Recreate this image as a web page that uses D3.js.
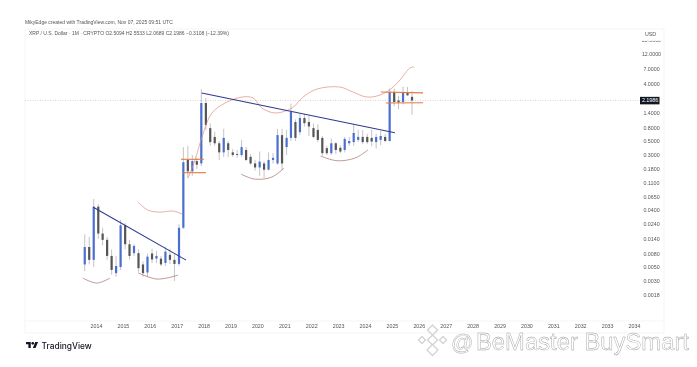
<!DOCTYPE html>
<html>
<head>
<meta charset="utf-8">
<script src="https://cdn.jsdelivr.net/npm/d3@7"></script>
<style>
  html, body { margin: 0; background: #fff; overflow: hidden; }
  svg { display: block; filter: blur(0.5px); }
  text { font-family: "Liberation Sans", sans-serif; fill: #555; }
</style>
</head>
<body>
<svg width="697" height="367"></svg>
<script>
const opens = [.0055,.0104,.0065,.0455,.017,.0135,.0075,.0040,.0050,.023,.0115,.0083,.0083,.0055,.0041,.0082,.0068,.0068,.0058,.0078,.0065,.0056,.021,.25,.165,.24,.22,2.0,.8,.58,.46,.33,.46,.33,.31,.30,.36,.28,.22,.19,.22,.175,.25,.22,.62,.40,.56,1.0,.69,1.16,1.0,.8,.75,.56,.385,.32,.46,.39,.36,.46,.48,.52,.58,.58,.56,.48,.52,.58,.50,3.0,2.2,2.08,2.9,2.5094]
const highs = [.0165,.015,.060,.05,.021,.015,.0095,.0075,.028,.025,.0135,.0115,.0095,.0062,.0082,.0098,.009,.0075,.0105,.0098,.008,.024,.40,.42,.30,.27,3.3,2.4,.95,.7,.5,.78,.5,.37,.36,.52,.40,.31,.25,.34,.24,.33,.32,.78,.78,.75,1.96,1.1,1.35,1.35,1.25,.95,.92,.6,.42,.55,.48,.43,.58,.58,.93,.75,.74,.65,.75,.65,.72,.64,3.4,3.4,2.6,3.66,3.6,3.1]
const lows = [.0043,.0055,.005,.014,.011,.0065,.0038,.0035,.0045,.0095,.0066,.0075,.0042,.0035,.0035,.0058,.0058,.0052,.0052,.0056,.0030,.0052,.02,.13,.14,.18,.2,.75,.42,.42,.25,.28,.28,.28,.27,.28,.24,.21,.17,.14,.13,.17,.22,.21,.17,.30,.5,.5,.62,.85,.6,.55,.48,.29,.30,.30,.31,.32,.33,.42,.42,.48,.45,.45,.41,.38,.43,.48,.49,1.77,1.6,1.9,2.6,1.3]
const closes = [.0104,.0065,.0455,.017,.0135,.0075,.0045,.0052,.023,.0115,.0075,.0108,.0048,.0040,.0073,.0066,.0075,.0055,.0088,.0065,.0056,.021,.23,.165,.24,.21,2.0,.9,.48,.46,.33,.56,.36,.30,.30,.40,.25,.22,.19,.235,.175,.25,.27,.62,.22,.56,1.44,.56,1.16,.96,.85,.58,.52,.32,.32,.46,.36,.34,.54,.50,.67,.58,.48,.48,.49,.58,.60,.50,3.0,2.08,2.05,2.9,2.65,2.1986]

const yearTicks = [2014,2015,2016,2017,2018,2019,2020,2021,2022,2023,2024,2025,2026,2027,2028,2029,2030,2031,2032,2033,2034]
const priceTicks = [20,12,7,4,1.4,0.8,0.5,0.3,0.18,0.11,0.065,0.04,0.024,0.014,0.008,0.005,0.003,0.0018]
const lastPrice = 2.1986

// annotations, as [year, price]
const trendA = [[2013.9,.0443],[2017.35,.00644]]
const trendB = [[2017.93,2.88],[2025.11,.676]]
const smiles = [
  [[2013.51,.00334],[2014.03,.00278],[2014.52,.00334]],
  [[2015.56,.00406],[2016.27,.00322],[2017.05,.00372]],
  [[2019.39,.149],[2019.91,.124],[2020.54,.134],[2020.99,.186]],
  [[2022.35,.288],[2022.96,.243],[2023.63,.268],[2024.11,.36]]
]
const maEarly = [[2015.56,.0537],[2015.93,.04],[2016.38,.0372],[2016.86,.0387],[2017.2,.0346]]
const maLate = [[2017.42,.129],[2017.68,.249],[2017.94,.578],[2018.31,1.39],[2018.8,2.0],[2019.43,2.49],[2019.84,2.41],[2020.17,1.67],[2020.65,1.39],[2021.29,1.67],[2021.7,2.49],[2022.22,3.34],[2023.07,3.59],[2023.55,2.99],[2024.07,2.49],[2024.56,2.68],[2025.0,3.46],[2025.3,4.64],[2025.67,7.2],[2025.82,7.46]]
const bands = [
  [[2017.16,.256],[2018.01,.256]],
  [[2017.23,.157],[2018.09,.157]],
  [[2024.59,2.99],[2026.16,2.9]],
  [[2024.78,2.0],[2026.16,2.02]]
]

const svg = d3.select('svg')

const yearDate = v => {
  const y = Math.floor(v)
  const a = Date.UTC(y, 0, 1)
  return new Date(a + (v - y) * (Date.UTC(y + 1, 0, 1) - a))
}

const dates = d3.utcMonth.range(new Date(Date.UTC(2013, 7, 1)), new Date(Date.UTC(2025, 11, 1)), 2)
const candles = dates.map((d, i) => ({ date: d, o: opens[i], h: highs[i], l: lows[i], c: closes[i] }))

const xScale = d3.scaleUtc()
  .domain([yearDate(2014), yearDate(2034)])
  .range([96, 634])

const yScale = d3.scaleLog()
  .domain([12, 0.0018])
  .range([54, 295])

const line = d3.line()
  .x(d => xScale(yearDate(d[0])))
  .y(d => yScale(d[1]))

const smooth = d3.line()
  .x(d => xScale(yearDate(d[0])))
  .y(d => yScale(d[1]))
  .curve(d3.curveCatmullRom)

// frame
const frame = svg.append('g').attr('stroke', '#f2f2f2').attr('stroke-width', 0.8).attr('fill', 'none')
frame.append('path').attr('d', d3.line()([[25, 29], [664, 29], [664, 333], [25, 333], [25, 29]]))
frame.append('path').attr('d', d3.line()([[25, 321], [664, 321]]))

// header
svg.append('text').attr('x', 25).attr('y', 24).attr('font-size', 5)
  .text('MikyEdge created with TradingView.com, Nov 07, 2025 09:51 UTC')
svg.append('text').attr('x', 29).attr('y', 35.2).attr('font-size', 5)
  .text('XRP / U.S. Dollar · 1M · CRYPTO  O2.5094  H2.5533  L2.0689  C2.1986  −0.3108 (−12.39%)')
svg.append('text').attr('x', 645).attr('y', 36).attr('font-size', 5.3).text('USD')

// last price line
svg.append('line')
  .attr('x1', 25).attr('x2', 640)
  .attr('y1', yScale(lastPrice)).attr('y2', yScale(lastPrice))
  .attr('stroke', '#c4c4c4').attr('stroke-width', 0.7).attr('stroke-dasharray', '1 1.5')

// axes
const xAxisGroup = svg.append('g')
  .attr('transform', 'translate(0, 321)')
  .call(d3.axisBottom(xScale)
    .tickValues(yearTicks.map(yearDate))
    .tickFormat(d3.utcFormat('%Y'))
    .tickSize(0)
    .tickPadding(3))
xAxisGroup.select('.domain').remove()
xAxisGroup.selectAll('text').attr('font-size', 5.3).style('font-family', '"Liberation Sans", sans-serif')

svg.append('clipPath').attr('id', 'axis-clip')
  .append('rect').attr('x', 630).attr('y', 40.8).attr('width', 40).attr('height', 270)

const yAxisGroup = svg.append('g')
  .attr('clip-path', 'url(#axis-clip)')
  .append('g')
  .attr('transform', 'translate(651.5, 0)')
  .call(d3.axisRight(yScale)
    .tickValues(priceTicks)
    .tickFormat(d3.format('.4f'))
    .tickSize(0)
    .tickPadding(0))
yAxisGroup.select('.domain').remove()
yAxisGroup.selectAll('text')
  .attr('font-size', 5.3)
  .attr('text-anchor', 'middle')
  .style('font-family', '"Liberation Sans", sans-serif')

// last price tag
svg.append('rect')
  .attr('x', 640).attr('width', 19.5)
  .attr('y', yScale(lastPrice) - 3.6).attr('height', 7.5)
  .attr('fill', '#131722')
svg.append('text')
  .attr('x', 650).attr('y', yScale(lastPrice) + 2)
  .attr('text-anchor', 'middle').attr('font-size', 5.3)
  .style('fill', '#fff')
  .text(d3.format('.4f')(lastPrice))

// candles
const upColor = '#4a6fd0'
const downColor = '#555'
const chart = svg.append('g')

chart.selectAll('.wick').data(candles)
  .enter().append('line')
  .attr('class', 'wick')
  .attr('x1', d => xScale(d.date)).attr('x2', d => xScale(d.date))
  .attr('y1', d => yScale(d.h)).attr('y2', d => yScale(d.l))
  .attr('stroke', '#aaa').attr('stroke-width', 0.7)

chart.selectAll('.body').data(candles)
  .enter().append('rect')
  .attr('class', 'body')
  .attr('x', d => xScale(d.date) - 1.1)
  .attr('width', 2.2)
  .attr('y', d => yScale(Math.max(d.o, d.c)))
  .attr('height', d => Math.max(0.8, Math.abs(yScale(d.o) - yScale(d.c))))
  .attr('fill', d => d.c >= d.o ? upColor : downColor)

// drawings
chart.selectAll('.ma').data([maEarly, maLate])
  .enter().append('path')
  .attr('class', 'ma')
  .attr('d', smooth)
  .attr('fill', 'none').attr('stroke', '#e08d7d').attr('stroke-width', 0.7)

chart.selectAll('.smile').data(smiles)
  .enter().append('path')
  .attr('class', 'smile')
  .attr('d', smooth)
  .attr('fill', 'none').attr('stroke', '#a5706c').attr('stroke-width', 0.7)

chart.selectAll('.trend').data([trendA, trendB])
  .enter().append('path')
  .attr('class', 'trend')
  .attr('d', line)
  .attr('fill', 'none').attr('stroke', '#2f3a8f').attr('stroke-width', 1.1)

chart.selectAll('.band').data(bands)
  .enter().append('path')
  .attr('class', 'band')
  .attr('d', line)
  .attr('fill', 'none').attr('stroke', '#e5783f').attr('stroke-width', 1.1)

// tradingview logo
const logo = svg.append('g').attr('transform', 'translate(26, 340.6) scale(0.34)').attr('fill', '#131722')
logo.append('path').attr('d', 'M14 22H7V11H0V4h14v18zM28 22h-8l7.5-18h8L28 22z')
logo.append('circle').attr('cx', 20).attr('cy', 8).attr('r', 4)
svg.append('text').attr('x', 41.5).attr('y', 349.2).attr('font-size', 8.4).attr('font-weight', 500)
  .style('font-family', 'Inter, sans-serif').style('fill', '#131722')
  .text('TradingView')

// watermark
const mark = svg.append('g').attr('fill', '#fff').attr('stroke', '#d4d4d4').attr('stroke-width', 1.4)
const diamonds = [[432.5, 340, 5], [432.5, 330, 5], [422, 340, 3.5], [443, 340, 3.5], [432.5, 350, 5.5]]
mark.selectAll('path').data(diamonds)
  .enter().append('path')
  .attr('d', d => `M${d[0]},${d[1] - d[2]}L${d[0] + d[2]},${d[1]}L${d[0]},${d[1] + d[2]}L${d[0] - d[2]},${d[1]}Z`)

svg.append('text')
  .attr('x', 451).attr('y', 350)
  .attr('font-size', 22)
  .style('fill', '#fff').style('stroke', '#aaa').style('stroke-width', 0.45)
  .text('@')
svg.append('text')
  .attr('x', 476).attr('y', 350)
  .attr('font-size', 23.8)
  .style('fill', '#fff').style('stroke', '#999').style('stroke-width', 0.4)
  .text('BeMaster BuySmart')
</script>
</body>
</html>
